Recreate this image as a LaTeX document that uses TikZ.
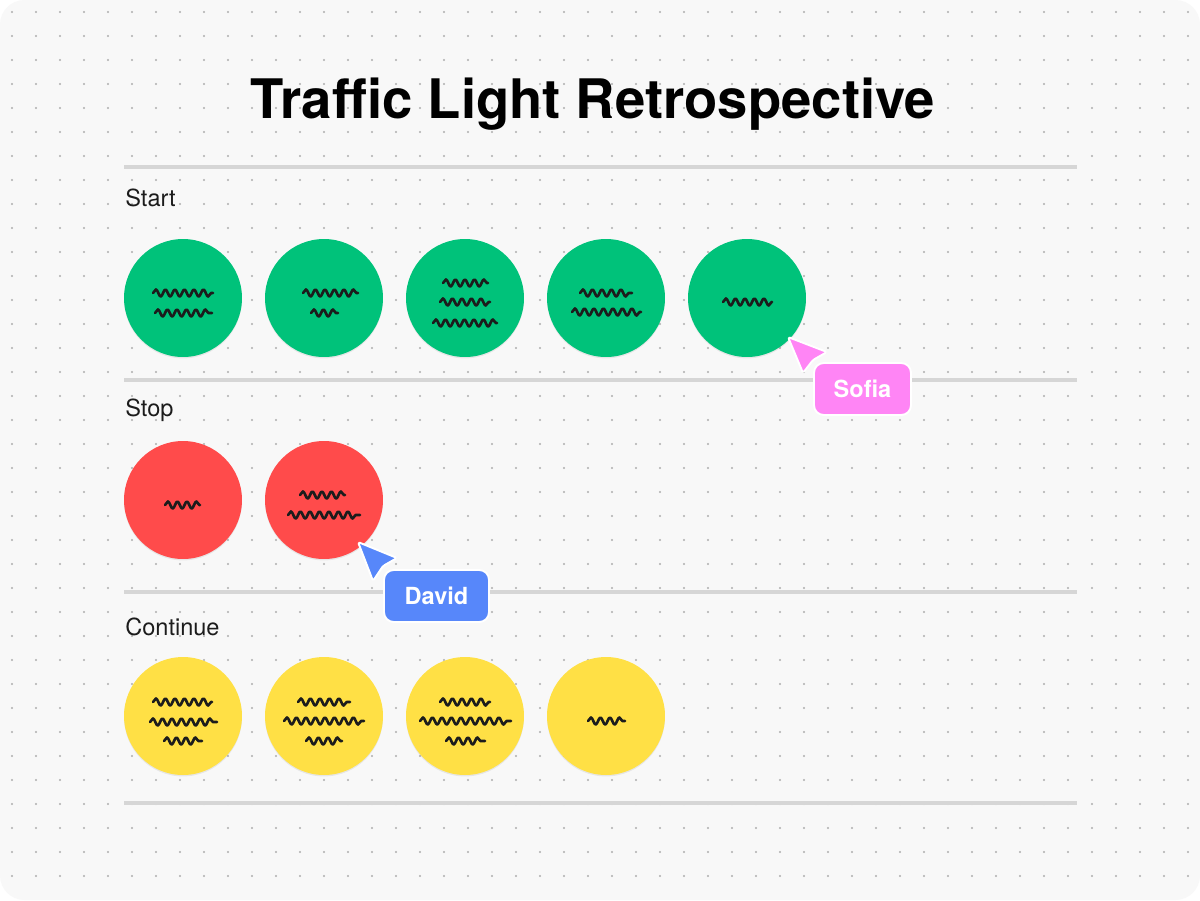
\documentclass[tikz,border=0pt]{standalone}
\usepackage{fontspec}
\setmainfont{TeX Gyre Heros}
\usetikzlibrary{decorations.pathmorphing}

\definecolor{board}{HTML}{F8F8F8}
\definecolor{griddot}{HTML}{ADADAD}
\definecolor{rulegray}{HTML}{D6D6D6}
\definecolor{gogreen}{HTML}{00C27A}
\definecolor{stopred}{HTML}{FF4B4B}
\definecolor{keepyellow}{HTML}{FFE045}
\definecolor{ink}{HTML}{1C1C1C}
\definecolor{sofiapink}{HTML}{FF85F5}
\definecolor{davidblue}{HTML}{5787FA}

\begin{document}
\begin{tikzpicture}[x=0.02cm, y=-0.02cm,
    sticky/.style={circle, minimum size=2.36cm, inner sep=0pt,
      preaction={fill=black, opacity=0.07, transform canvas={yshift=-0.8pt}}},
    scribble/.style={draw=ink, line width=1.5pt, line cap=round, line join=round,
      decorate, decoration={snake, segment length=5.4pt, amplitude=2pt}},
    sectionrule/.style={draw=rulegray, line width=1.9pt},
    sectionlabel/.style={anchor=base west, inner sep=0pt, font=\fontsize{13.4}{16}\selectfont, text=ink},
    cursortag/.style={rounded corners=5.5pt, draw=white, line width=1.1pt, text=white,
      minimum width=1.94cm, minimum height=1.04cm, font=\fontsize{13.4}{16}\selectfont\bfseries},
    cursorhead/.style={draw=white, line width=1.1pt, line join=round, rounded corners=1pt}]

  \useasboundingbox (0,0) rectangle (1200,900);
  \fill[white] (0,0) rectangle (1200,900);
  \fill[board, rounded corners=14pt] (0,0) rectangle (1200,900);
  \foreach \i in {0,...,49}
    \foreach \j in {0,...,36}
      \fill[griddot] (12+24*\i, 12+24*\j) circle (1.2);

  \node[anchor=base, inner sep=0pt, font=\fontsize{31}{36}\selectfont\bfseries] (title) at (593,118) {Traffic Light Retrospective};

  \coordinate (ruleA) at (124,167);
  \coordinate (ruleB) at (124,380);
  \coordinate (ruleC) at (124,592);
  \coordinate (ruleD) at (124,803);
  \foreach \r in {ruleA,ruleB,ruleC,ruleD}
    \draw[sectionrule] (\r) -- ++(953,0);

  \node[sectionlabel] (startlabel) at (125,206) {Start};
  \node[sectionlabel] (stoplabel) at (125,416) {Stop};
  \node[sectionlabel] (contlabel) at (125,635) {Continue};

  % start row
  \foreach \k in {1,...,5}
    \node[sticky, fill=gogreen] (s\k) at (183+141*\k-141, 298) {};
  % stop row
  \foreach \k in {1,2}
    \node[sticky, fill=stopred] (p\k) at (183+141*\k-141, 500) {};
  % continue row
  \foreach \k in {1,...,4}
    \node[sticky, fill=keepyellow] (c\k) at (183+141*\k-141, 716) {};

  \foreach \a/\b/\y in {-30/30/-5, -28/29/15}
    \draw[scribble] ([shift={(\a,\y)}]s1.center) -- ([shift={(\b,\y)}]s1.center);
  \foreach \a/\b/\y in {-21/34/-5, -13/14/15}
    \draw[scribble] ([shift={(\a,\y)}]s2.center) -- ([shift={(\b,\y)}]s2.center);
  \foreach \a/\b/\y in {-22/23/-15, -25/25/4, -32/32/25}
    \draw[scribble] ([shift={(\a,\y)}]s3.center) -- ([shift={(\b,\y)}]s3.center);
  \foreach \a/\b/\y in {-26/26/-5, -34/35/14}
    \draw[scribble] ([shift={(\a,\y)}]s4.center) -- ([shift={(\b,\y)}]s4.center);
  \draw[scribble] ([shift={(-24,4)}]s5.center) -- ([shift={(25,4)}]s5.center);

  \draw[scribble] ([shift={(-18,5)}]p1.center) -- ([shift={(17,5)}]p1.center);
  \foreach \a/\b/\y in {-24/21/-5, -36/36/15}
    \draw[scribble] ([shift={(\a,\y)}]p2.center) -- ([shift={(\b,\y)}]p2.center);

  \foreach \a/\b/\y in {-30/29/-14, -33/34/6, -19/19/25}
    \draw[scribble] ([shift={(\a,\y)}]c1.center) -- ([shift={(\b,\y)}]c1.center);
  \foreach \a/\b/\y in {-26/26/-14, -40/40/5, -18/18/25}
    \draw[scribble] ([shift={(\a,\y)}]c2.center) -- ([shift={(\b,\y)}]c2.center);
  \foreach \a/\b/\y in {-25/25/-14, -45/46/5, -19/20/25}
    \draw[scribble] ([shift={(\a,\y)}]c3.center) -- ([shift={(\b,\y)}]c3.center);
  \draw[scribble] ([shift={(-18,5)}]c4.center) -- ([shift={(19,5)}]c4.center);

  % cursors
  \coordinate (sofiatip) at (788,337);
  \filldraw[cursorhead, fill=sofiapink] (sofiatip) -- ++(39,15) -- ++(-14,8) -- ++(-10,13) -- cycle;
  \node[cursortag, fill=sofiapink] (sofia) at (862.5,389) {Sofia};

  \coordinate (davidtip) at (358,542);
  \filldraw[cursorhead, fill=davidblue] (davidtip) -- ++(39,16) -- ++(-14,8) -- ++(-10,15) -- cycle;
  \node[cursortag, fill=davidblue, minimum width=2.1cm] (david) at (436.5,596) {David};
\end{tikzpicture}
\end{document}
